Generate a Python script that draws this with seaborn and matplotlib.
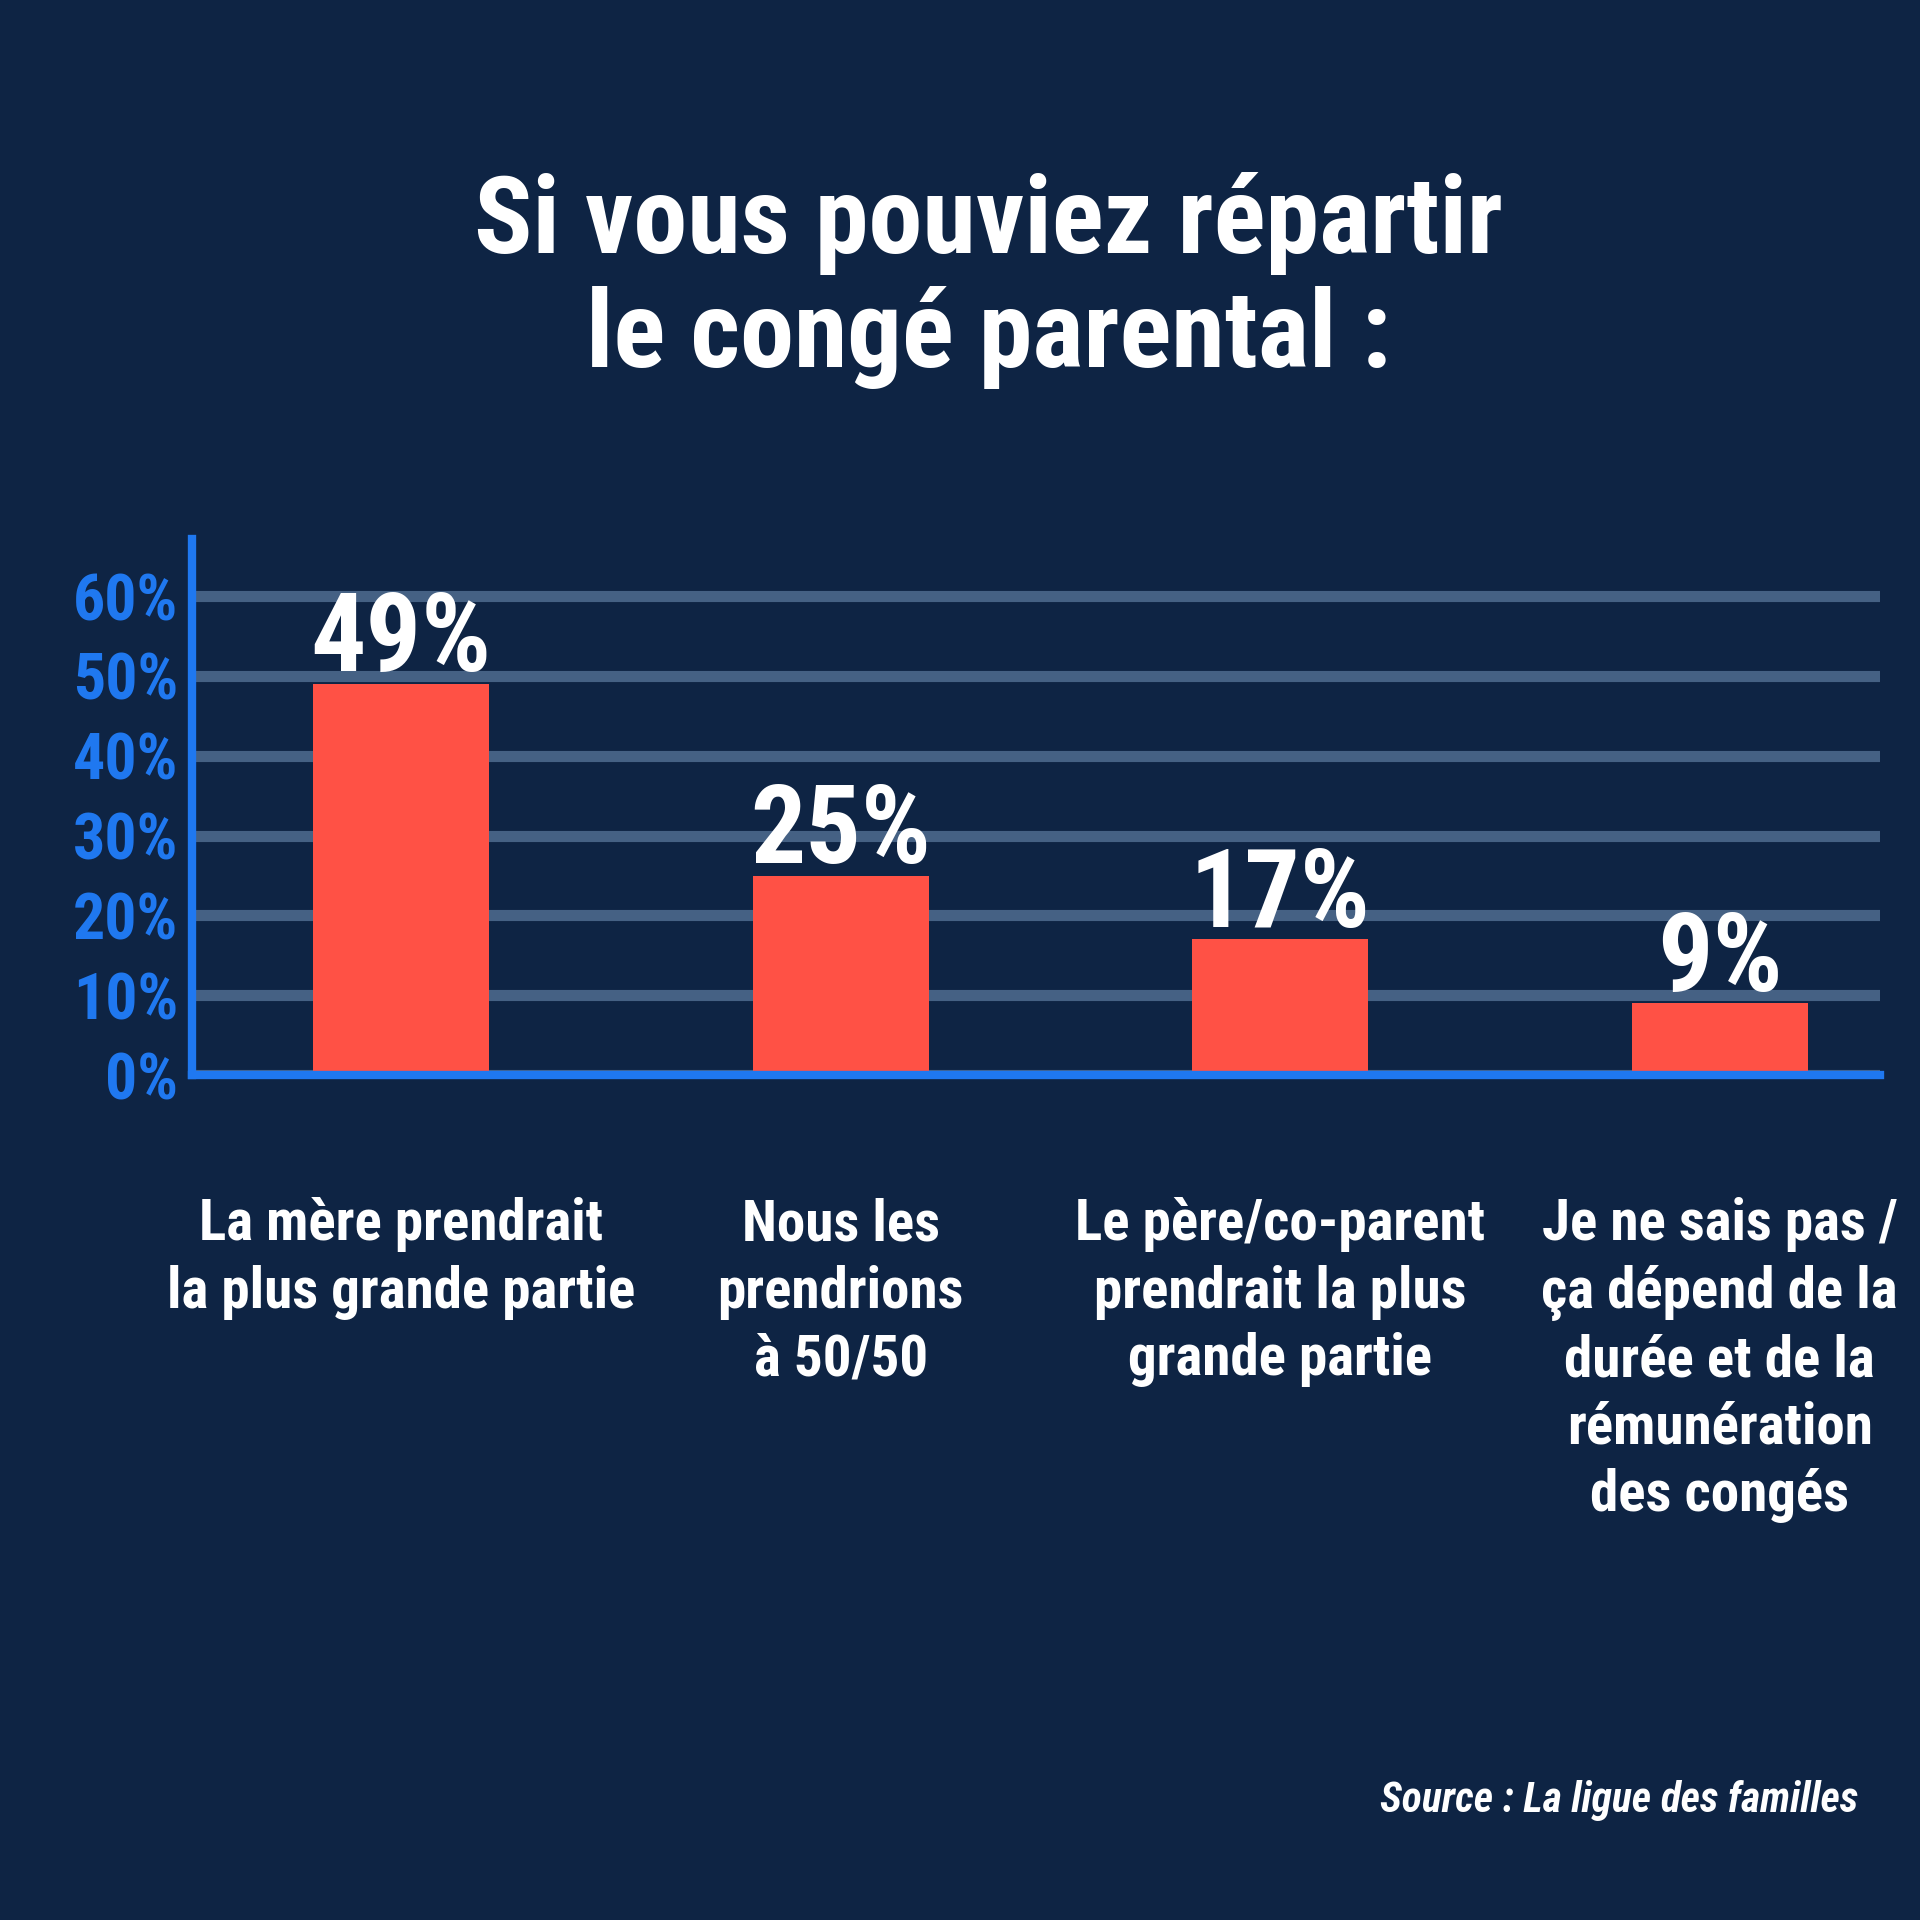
import matplotlib
matplotlib.use("Agg")
import matplotlib.pyplot as plt
import seaborn as sns
from matplotlib import font_manager

# chart data
categories = [
    "La mère prendrait\nla plus grande partie",
    "Nous les\nprendrions\nà 50/50",
    "Le père/co-parent\nprendrait la plus\ngrande partie",
    "Je ne sais pas /\nça dépend de la\ndurée et de la\nrémunération\ndes congés",
]
values = [49, 25, 17, 9]
y_ticks = [0, 10, 20, 30, 40, 50, 60]
y_tick_labels = ["0%", "10%", "20%", "30%", "40%", "50%", "60%"]
title = "Si vous pouviez répartir\nle congé parental :"
source = "Source : La ligue des familles"

BG = "#0e2444"
BAR = "#ff5145"
AXIS_BLUE = "#1f78f0"
GRID = "#456184"

sns.set_style("white")
installed = {f.name for f in font_manager.fontManager.ttflist}
font = "Roboto"
for cand in ["Roboto Condensed", "Liberation Sans Narrow", "Roboto"]:
    if cand in installed:
        font = cand
        break
plt.rcParams["font.family"] = [font, "DejaVu Sans"]
k = 1.0 if font != "Roboto" else 0.8

fig = plt.figure(figsize=(19.2, 19.2), dpi=100, facecolor=BG)
ax = fig.add_axes([0.1, 0.44, 0.879, 0.2795])
ax.set_facecolor(BG)

sns.barplot(x=categories, y=values, color=BAR, saturation=1, width=0.4,
            linewidth=0, ax=ax, zorder=2)

ax.set_xlim(-0.476, 3.364)
ax.set_ylim(0, 67.2)
ax.set_yticks(y_ticks)
ax.set_yticklabels(y_tick_labels, color=AXIS_BLUE, fontsize=46 * k, fontweight="bold")
ax.tick_params(axis="y", length=0, pad=10)
ax.tick_params(axis="x", length=0, pad=88)
for lbl in ax.get_xticklabels():
    lbl.set_color("white")
    lbl.set_fontsize(41 * k)
    lbl.set_fontweight("bold")
    lbl.set_linespacing(1.29)
    lbl.set_verticalalignment("top")

ax.yaxis.grid(True, color=GRID, linewidth=8)
ax.set_axisbelow(True)
for s in ["top", "right"]:
    ax.spines[s].set_visible(False)
for s in ["left", "bottom"]:
    ax.spines[s].set_color(AXIS_BLUE)
    ax.spines[s].set_linewidth(6)
    ax.spines[s].set_zorder(3)
ax.set_xlabel("")
ax.set_ylabel("")

for i, v in enumerate(values):
    ax.annotate(f"{v}%", (i, v), xytext=(0, 9), textcoords="offset points",
                ha="center", va="baseline", color="white",
                fontsize=79 * k, fontweight="bold", zorder=4)

fig.text(0.515, 1 - 172 / 1920, title, ha="center", va="top", color="white",
         fontsize=78 * k, fontweight="bold", linespacing=1.13)
fig.text(0.968, 0.056, source, ha="right", va="baseline", color="white",
         fontsize=30 * k, fontweight="bold", fontstyle="italic")

fig.savefig("out.png", dpi=100, facecolor=BG)
